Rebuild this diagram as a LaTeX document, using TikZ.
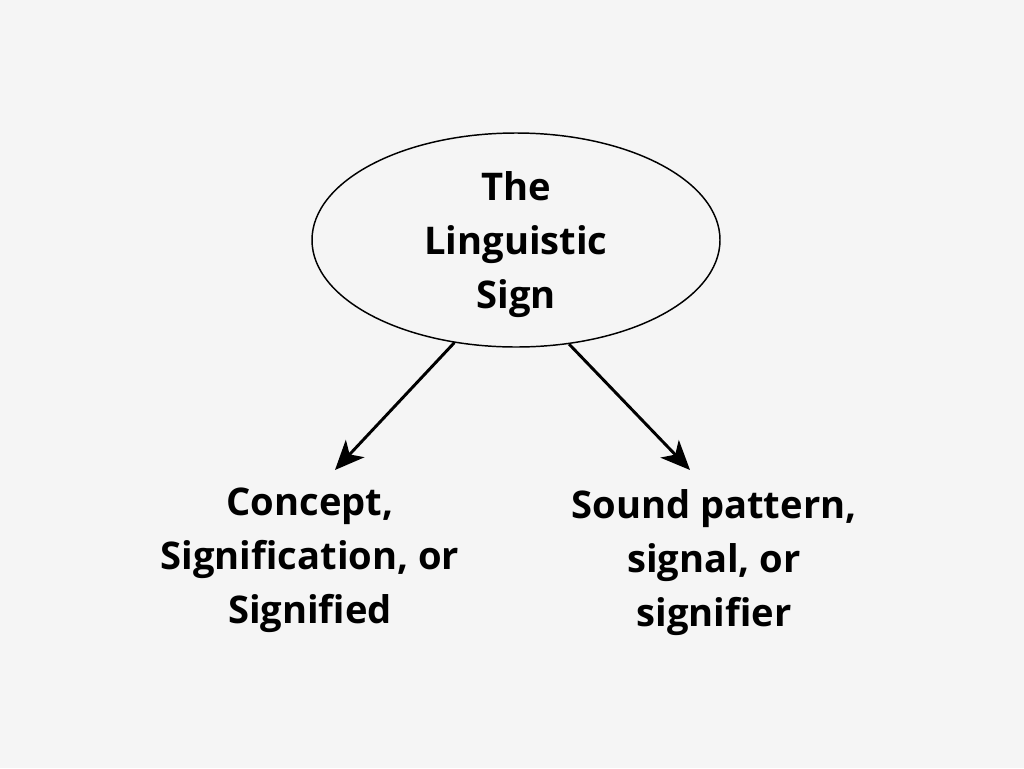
\documentclass[tikz,border=0pt]{standalone}
\usepackage{fontspec}
\setmainfont{Open Sans}
\usetikzlibrary{shapes.geometric,arrows.meta}
\begin{document}
\begin{tikzpicture}[x=0.75pt,y=-0.75pt,
  bigtext/.style={font=\fontsize{28.6}{40.5}\selectfont\bfseries, align=center, text=black, inner sep=0pt},
  arr/.style={line width=2.2pt, -{Stealth[length=22pt,width=19pt,inset=6pt]}}]
\fill[gray!8] (0,0) rectangle (1024,768);
\useasboundingbox (0,0) rectangle (1024,768);
\node[draw, line width=1.1pt, ellipse, minimum width=408*0.75pt, minimum height=214*0.75pt, inner sep=0pt] (sign) at (516,240) {};
\node[bigtext] (signtxt) at (516,245) {The\\Linguistic\\Sign};
\node[bigtext] (left) at (310,560) {Concept,\\Signification, or\\Signified};
\node[bigtext] (right) at (714,563) {Sound pattern,\\signal, or\\signifier};
\coordinate (tipL) at (335,470);
\coordinate (tipR) at (690,470);
\draw[arr] (sign.239.4) -- (tipL);
\draw[arr] (sign.297.7) -- (tipR);
\end{tikzpicture}
\end{document}
